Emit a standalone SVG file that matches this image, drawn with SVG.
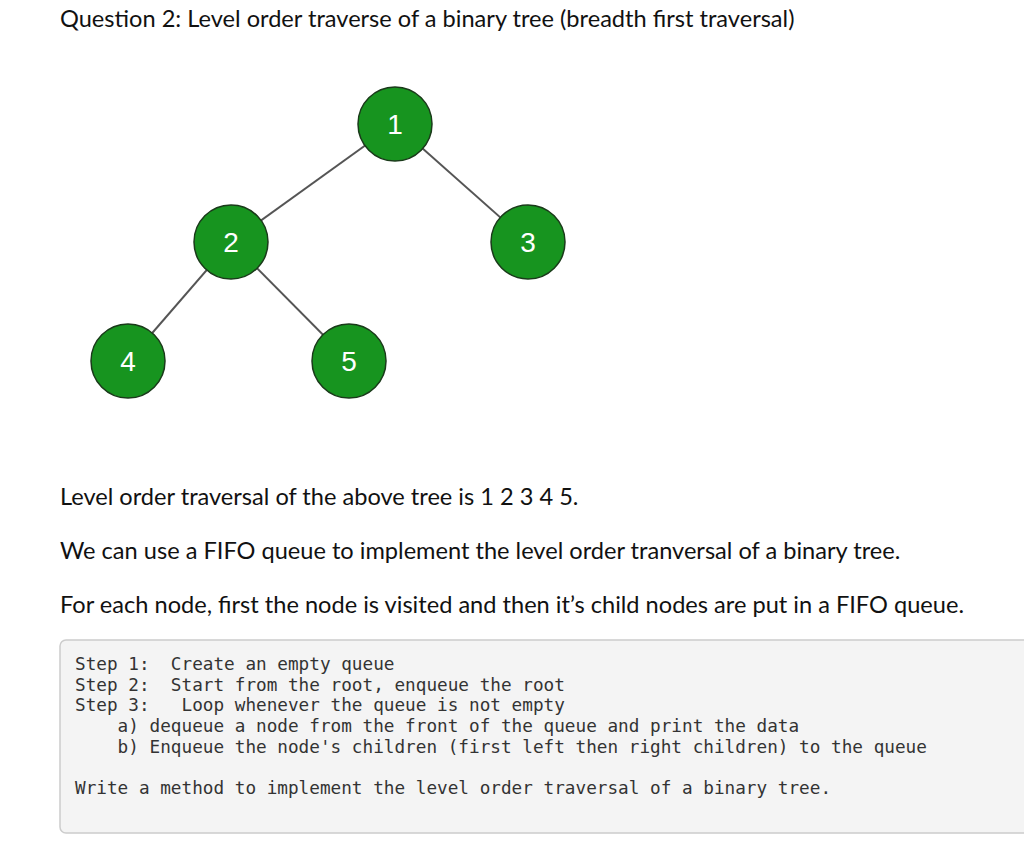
<svg xmlns="http://www.w3.org/2000/svg" width="1024" height="841" viewBox="0 0 1024 841">
<style>
.n circle{fill:#17941f;stroke:#1a3a1a;stroke-width:1.5}
.n text{font-family:"Liberation Sans",Arial,sans-serif;font-size:28px;fill:#fff;text-anchor:middle}
.e line{stroke:#555;stroke-width:2}
.t{font-family:Lato,"Open Sans",sans-serif;fill:#111;font-size:23.6px}
.m{font-family:"DejaVu Sans Mono",monospace;font-size:17.7px;fill:#333;white-space:pre}
</style>
<rect width="1024" height="841" fill="#fff"/>
<text class="t" x="60" y="27">Question 2: Level order traverse of a binary tree (breadth first traversal)</text>
<g class="e">
<line x1="395" y1="124" x2="231" y2="242"/>
<line x1="395" y1="124" x2="528" y2="242"/>
<line x1="231" y1="242" x2="128" y2="361"/>
<line x1="231" y1="242" x2="349" y2="361"/>
</g>
<g id="n1" class="n"><circle cx="395" cy="124" r="37"/><text x="395" y="134">1</text></g>
<g id="n2" class="n"><circle cx="231" cy="242" r="37"/><text x="231" y="252">2</text></g>
<g id="n3" class="n"><circle cx="528" cy="242" r="37"/><text x="528" y="252">3</text></g>
<g id="n4" class="n"><circle cx="128" cy="361" r="37"/><text x="128" y="371">4</text></g>
<g id="n5" class="n"><circle cx="349" cy="361" r="37"/><text x="349" y="371">5</text></g>
<text class="t" x="60" y="505">Level order traversal of the above tree is 1 2 3 4 5.</text>
<text class="t" x="60" y="559">We can use a FIFO queue to implement the level order tranversal of a binary tree.</text>
<text class="t" x="60" y="613">For each node, first the node is visited and then it’s child nodes are put in a FIFO queue.</text>
<rect x="60" y="640" width="980" height="193" rx="6" fill="#f4f4f4" stroke="#ccc" stroke-width="1.5"/>
<text class="m" x="75" y="670">Step 1:  Create an empty queue</text>
<text class="m" x="75" y="691">Step 2:  Start from the root, enqueue the root</text>
<text class="m" x="75" y="711">Step 3:   Loop whenever the queue is not empty</text>
<text class="m" x="75" y="732">    a) dequeue a node from the front of the queue and print the data</text>
<text class="m" x="75" y="753">    b) Enqueue the node's children (first left then right children) to the queue</text>
<text class="m" x="75" y="794">Write a method to implement the level order traversal of a binary tree.</text>
</svg>
